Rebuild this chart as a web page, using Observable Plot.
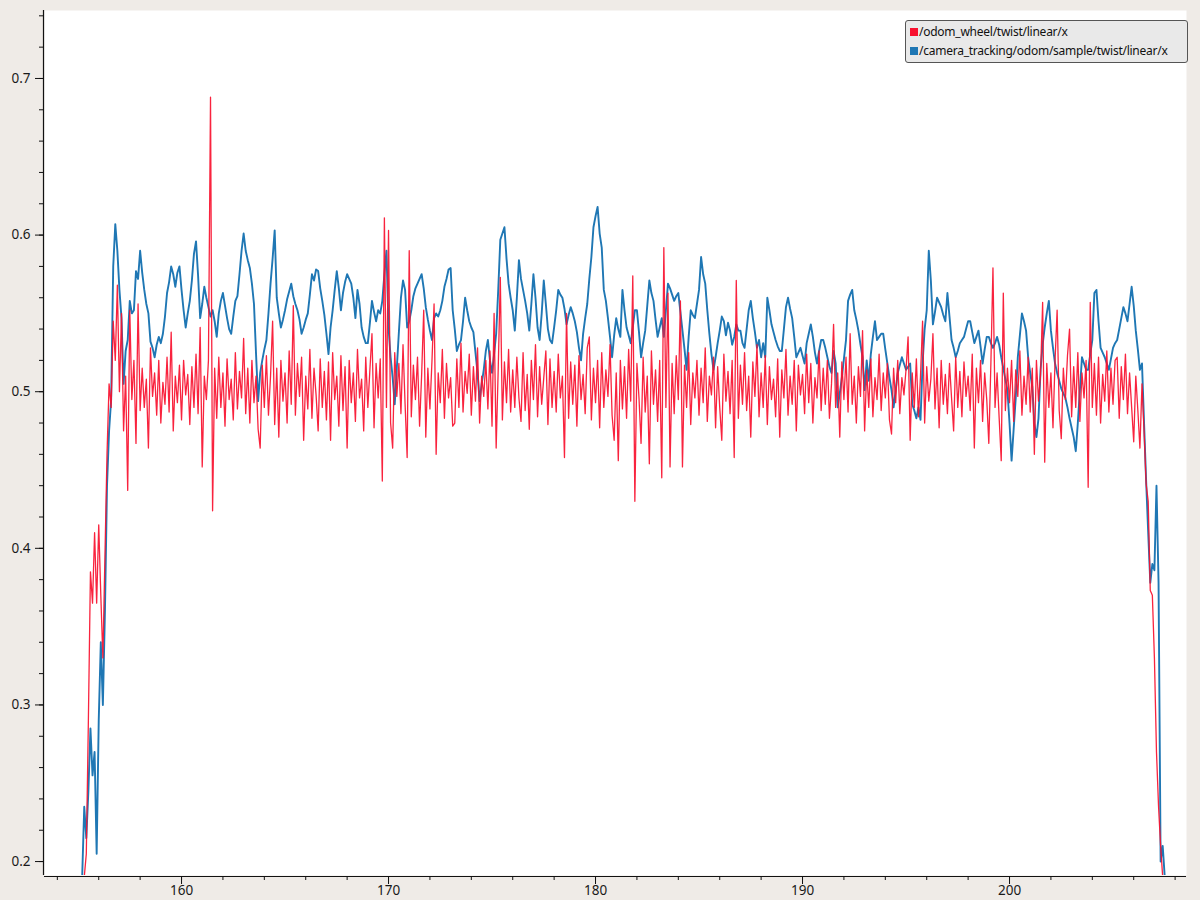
<!DOCTYPE html>
<html><head><meta charset="utf-8">
<script src="https://cdn.jsdelivr.net/npm/d3@7"></script>
<script src="https://cdn.jsdelivr.net/npm/@observablehq/plot@0.6"></script>
<style>
html,body{margin:0;padding:0;background:#efebe7;}
#wrap{position:relative;width:1200px;height:900px;overflow:hidden;}
#legend{position:absolute;left:905px;top:20px;width:283px;height:43px;background:#e9e9e9;border:1px solid #555;border-radius:3px;font:12px "Noto Sans",sans-serif;color:#111;box-sizing:border-box;padding:1px 0 0 4px;}
.item{display:flex;align-items:center;height:19px;white-space:nowrap;letter-spacing:-0.25px;}
.sw{width:8px;height:8px;margin-right:1px;flex:none;}
#chart svg text{font-size:13.5px;}
</style></head>
<body><div id="wrap"><div id="chart"></div><div id="legend"></div></div>
<script>
// ---- series
const seriesNames = ["/odom_wheel/twist/linear/x", "/camera_tracking/odom/sample/twist/linear/x"];
const seriesColors = ["#f8102e", "#1f77b4"];

// odom_wheel : samples every 0.1 s starting at 155.3 s
const redStart = 155.3, redStep = 0.1;
const redValues = [
0.19,0.205,0.29,0.385,0.365,0.41,0.365,
0.415,0.37,0.33,0.395,0.46,0.505,0.49,0.545,0.52,0.568,
0.50,0.55,0.475,0.51,0.437,0.552,0.495,0.52,0.467,0.556,
0.488,0.515,0.49,0.508,0.464,0.528,0.497,0.512,0.485,0.52,
0.48,0.506,0.492,0.522,0.487,0.538,0.475,0.51,0.493,0.517,
0.482,0.52,0.498,0.511,0.479,0.516,0.49,0.524,0.486,0.541,
0.452,0.51,0.495,0.52,0.688,0.424,0.515,0.483,0.522,0.49,
0.512,0.478,0.521,0.495,0.508,0.482,0.525,0.489,0.513,0.496,
0.534,0.486,0.515,0.48,0.52,0.493,0.51,0.476,0.464,0.517,
0.49,0.523,0.485,0.51,0.545,0.479,0.515,0.471,0.52,0.494,
0.512,0.48,0.526,0.492,0.555,0.485,0.518,0.497,0.522,0.469,
0.51,0.489,0.527,0.483,0.515,0.498,0.475,0.521,0.49,0.513,
0.482,0.519,0.469,0.525,0.495,0.51,0.478,0.523,0.488,0.516,
0.464,0.52,0.493,0.512,0.481,0.527,0.496,0.508,0.475,0.522,
0.49,0.514,0.537,0.477,0.518,0.496,0.521,0.443,0.611,0.49,
0.603,0.48,0.464,0.525,0.497,0.518,0.486,0.53,0.492,0.458,
0.59,0.484,0.517,0.495,0.522,0.478,0.511,0.552,0.471,0.515,
0.489,0.52,0.556,0.46,0.512,0.493,0.527,0.483,0.518,0.496,
0.509,0.478,0.48,0.521,0.49,0.531,0.487,0.513,0.499,0.524,
0.485,0.516,0.494,0.528,0.48,0.51,0.497,0.52,0.489,0.526,
0.478,0.55,0.464,0.515,0.573,0.482,0.519,0.493,0.527,0.487,
0.514,0.49,0.522,0.496,0.481,0.525,0.488,0.511,0.476,0.52,
0.495,0.53,0.484,0.516,0.492,0.509,0.526,0.479,0.521,0.49,
0.513,0.487,0.524,0.496,0.51,0.458,0.55,0.483,0.519,0.492,
0.517,0.478,0.523,0.495,0.511,0.486,0.528,0.535,0.482,0.515,
0.493,0.52,0.477,0.525,0.49,0.514,0.497,0.53,0.485,0.469,
0.512,0.456,0.52,0.489,0.516,0.483,0.527,0.494,0.574,0.43,
0.518,0.496,0.467,0.522,0.487,0.51,0.454,0.526,0.492,0.514,
0.481,0.52,0.445,0.592,0.49,0.563,0.452,0.518,0.486,0.523,
0.495,0.558,0.452,0.517,0.49,0.525,0.479,0.512,0.496,0.52,
0.485,0.515,0.493,0.528,0.481,0.51,0.498,0.522,0.477,0.516,
0.49,0.469,0.524,0.494,0.513,0.486,0.52,0.458,0.571,0.483,
0.517,0.492,0.525,0.488,0.51,0.471,0.519,0.497,0.53,0.484,
0.512,0.49,0.523,0.479,0.516,0.495,0.508,0.484,0.521,0.471,
0.514,0.496,0.527,0.485,0.51,0.492,0.52,0.475,0.517,0.498,
0.511,0.486,0.524,0.493,0.518,0.48,0.509,0.496,0.526,0.488,
0.515,0.492,0.52,0.483,0.505,0.543,0.49,0.512,0.471,0.519,
0.495,0.522,0.487,0.537,0.492,0.51,0.48,0.516,0.497,0.539,
0.475,0.514,0.49,0.521,0.484,0.509,0.495,0.524,0.488,0.512,
0.496,0.518,0.482,0.473,0.515,0.493,0.52,0.486,0.509,0.498,
0.514,0.535,0.469,0.512,0.49,0.521,0.484,0.51,0.545,0.48,
0.516,0.494,0.508,0.537,0.489,0.515,0.477,0.52,0.492,0.511,
0.486,0.518,0.496,0.475,0.522,0.49,0.513,0.484,0.519,0.497,
0.51,0.488,0.524,0.464,0.515,0.493,0.52,0.481,0.512,0.495,
0.467,0.518,0.579,0.49,0.512,0.483,0.456,0.563,0.488,0.515,
0.493,0.52,0.481,0.514,0.497,0.526,0.485,0.51,0.492,0.522,
0.487,0.515,0.46,0.52,0.494,0.511,0.557,0.455,0.518,0.49,
0.512,0.477,0.52,0.552,0.488,0.47,0.515,0.495,0.523,0.54,
0.484,0.516,0.49,0.525,0.481,0.512,0.496,0.52,0.439,0.557,
0.49,0.518,0.485,0.522,0.48,0.511,0.494,0.526,0.487,0.515,
0.492,0.52,0.522,0.483,0.516,0.495,0.524,0.486,0.512,0.49,
0.468,0.51,0.488,0.464,0.505,0.475,0.441,0.43,0.373,0.37,
0.33,0.27,0.235,0.21,0.19
];

// camera_tracking : samples every 0.1 s starting at 155.2 s
const blueStart = 155.2, blueStep = 0.1;
const blueValues = [
0.19,0.235,0.215,0.245,0.285,0.255,0.27,0.205,
0.29,0.34,0.30,0.36,0.44,0.475,0.495,0.58,0.607,0.59,
0.565,0.547,0.505,0.526,0.533,0.558,0.55,0.552,0.577,0.572,
0.59,0.576,0.565,0.556,0.55,0.532,0.528,0.522,0.53,0.535,
0.531,0.537,0.548,0.563,0.57,0.58,0.575,0.567,0.576,0.58,
0.565,0.552,0.541,0.55,0.558,0.571,0.588,0.596,0.574,0.547,
0.556,0.567,0.56,0.554,0.548,0.552,0.545,0.535,0.55,0.558,
0.563,0.555,0.547,0.54,0.537,0.548,0.558,0.561,0.575,0.59,
0.601,0.59,0.584,0.579,0.569,0.556,0.524,0.494,0.512,0.52,
0.527,0.533,0.55,0.569,0.585,0.603,0.56,0.55,0.541,0.546,
0.552,0.559,0.564,0.569,0.561,0.556,0.552,0.546,0.537,0.541,
0.546,0.55,0.562,0.575,0.571,0.578,0.577,0.566,0.558,0.549,
0.537,0.524,0.541,0.552,0.565,0.577,0.566,0.552,0.563,0.57,
0.575,0.572,0.569,0.56,0.547,0.565,0.556,0.541,0.535,0.531,
0.531,0.544,0.558,0.551,0.545,0.552,0.55,0.558,0.575,0.59,
0.541,0.522,0.509,0.492,0.515,0.538,0.56,0.571,0.565,0.541,
0.545,0.552,0.561,0.566,0.569,0.572,0.575,0.566,0.554,0.546,
0.539,0.533,0.547,0.55,0.548,0.552,0.558,0.567,0.572,0.578,
0.579,0.552,0.54,0.526,0.53,0.533,0.545,0.56,0.552,0.545,
0.541,0.538,0.525,0.512,0.494,0.505,0.514,0.526,0.533,0.52,
0.512,0.524,0.537,0.565,0.597,0.601,0.605,0.585,0.569,0.56,
0.552,0.539,0.56,0.584,0.572,0.565,0.558,0.55,0.539,0.556,
0.575,0.56,0.541,0.533,0.55,0.571,0.556,0.54,0.533,0.531,
0.541,0.552,0.565,0.562,0.56,0.553,0.543,0.549,0.554,0.55,
0.545,0.538,0.528,0.52,0.537,0.547,0.556,0.572,0.586,0.605,
0.612,0.618,0.601,0.592,0.565,0.558,0.547,0.535,0.522,0.536,
0.547,0.54,0.535,0.565,0.552,0.541,0.536,0.531,0.541,0.552,
0.552,0.538,0.522,0.531,0.539,0.555,0.571,0.563,0.558,0.546,
0.535,0.541,0.547,0.535,0.552,0.569,0.566,0.562,0.558,0.561,
0.563,0.551,0.539,0.527,0.514,0.535,0.552,0.549,0.547,0.556,
0.565,0.586,0.575,0.569,0.552,0.537,0.524,0.514,0.522,0.531,
0.539,0.548,0.545,0.536,0.544,0.539,0.53,0.535,0.543,0.539,
0.539,0.531,0.528,0.54,0.552,0.558,0.547,0.538,0.528,0.533,
0.522,0.531,0.522,0.56,0.552,0.543,0.538,0.533,0.529,0.526,
0.526,0.54,0.554,0.56,0.553,0.547,0.535,0.522,0.525,0.528,
0.523,0.518,0.531,0.537,0.543,0.535,0.525,0.518,0.526,0.533,
0.533,0.528,0.522,0.516,0.512,0.526,0.518,0.49,0.499,0.509,
0.521,0.533,0.558,0.562,0.565,0.552,0.546,0.539,0.53,0.522,
0.501,0.52,0.507,0.524,0.535,0.545,0.533,0.535,0.537,0.537,
0.527,0.518,0.509,0.501,0.49,0.501,0.512,0.517,0.522,0.518,
0.514,0.516,0.518,0.492,0.488,0.483,0.49,0.482,0.518,0.54,
0.552,0.59,0.571,0.543,0.551,0.56,0.557,0.554,0.549,0.545,
0.563,0.548,0.533,0.528,0.522,0.526,0.531,0.533,0.535,0.54,
0.545,0.545,0.538,0.531,0.535,0.539,0.529,0.518,0.527,0.535,
0.535,0.531,0.528,0.531,0.535,0.53,0.522,0.515,0.508,0.501,
0.48,0.456,0.476,0.496,0.522,0.536,0.55,0.545,0.539,0.522,
0.512,0.503,0.48,0.471,0.483,0.514,0.53,0.541,0.55,0.558,
0.539,0.528,0.518,0.512,0.507,0.502,0.499,0.496,0.49,0.483,
0.477,0.471,0.462,0.48,0.501,0.522,0.518,0.514,0.514,0.524,
0.533,0.563,0.565,0.545,0.528,0.525,0.522,0.518,0.514,0.521,
0.528,0.531,0.533,0.54,0.547,0.554,0.55,0.545,0.556,0.567,
0.555,0.539,0.527,0.514,0.518,0.48,0.443,0.41,0.378,0.39,
0.386,0.44,0.378,0.2,0.21,0.19
];

// ---- axes
const xDomain = [153.38, 208.55];
const yDomain = [0.1911, 0.7434];
const xMajorTicks = [160, 170, 180, 190, 200];
const xMinorTicks = [154,156,158,160,162,164,166,168,170,172,174,176,178,180,182,184,186,188,190,192,194,196,198,200,202,204,206,208];
const yMajorTicks = [0.2, 0.3, 0.4, 0.5, 0.6, 0.7];
const yMinorTicks = [0.20,0.22,0.24,0.26,0.28,0.30,0.32,0.34,0.36,0.38,0.40,0.42,0.44,0.46,0.48,0.50,0.52,0.54,0.56,0.58,0.60,0.62,0.64,0.66,0.68,0.70,0.72,0.74];

const red = redValues.map((v, i) => ({t: +(redStart + i * redStep).toFixed(2), v}));
const blue = blueValues.map((v, i) => ({t: +(blueStart + i * blueStep).toFixed(2), v}));

const font = '"Noto Sans", sans-serif';
const chart = Plot.plot({
  width: 1200, height: 900,
  marginLeft: 44, marginRight: 14, marginTop: 10, marginBottom: 25,
  style: {background: "transparent", fontFamily: font, fontSize: "13.5px", color: "#1a1a1a"},
  x: {domain: xDomain, label: null},
  y: {domain: yDomain, label: null},
  marks: [
    Plot.frame({fill: "white", stroke: null}),
    Plot.line(blue, {x: "t", y: "v", stroke: seriesColors[1], strokeWidth: 1.9, clip: true}),
    Plot.line(red, {x: "t", y: "v", stroke: seriesColors[0], strokeWidth: 1.3, strokeOpacity: 0.92, clip: true}),
    Plot.ruleX([xDomain[0]], {stroke: "#111", strokeWidth: 1.2, dx: -1}),
    Plot.ruleY([yDomain[0]], {stroke: "#111", strokeWidth: 1.2, dy: 1}),
    Plot.axisY(yMinorTicks, {anchor: "left", tickSize: 4, tickFormat: () => "", stroke: "#111", dx: -1}),
    Plot.axisY(yMajorTicks, {anchor: "left", tickSize: 8, tickPadding: 5, tickFormat: d => d.toFixed(1), stroke: "#111", dx: -1}),
    Plot.axisX(xMinorTicks, {anchor: "bottom", tickSize: 4, tickFormat: () => "", stroke: "#111", dy: 1}),
    Plot.axisX(xMajorTicks, {anchor: "bottom", tickSize: 8, tickPadding: 1, tickFormat: d => String(d), stroke: "#111", dy: 1})
  ]
});
document.getElementById("chart").appendChild(chart);

const legend = document.getElementById("legend");
seriesNames.forEach((name, i) => {
  const item = document.createElement("div");
  item.className = "item";
  const sw = document.createElement("span");
  sw.className = "sw";
  sw.style.background = seriesColors[i];
  const tx = document.createElement("span");
  tx.textContent = name;
  item.appendChild(sw); item.appendChild(tx);
  legend.appendChild(item);
});
</script>
</body></html>
